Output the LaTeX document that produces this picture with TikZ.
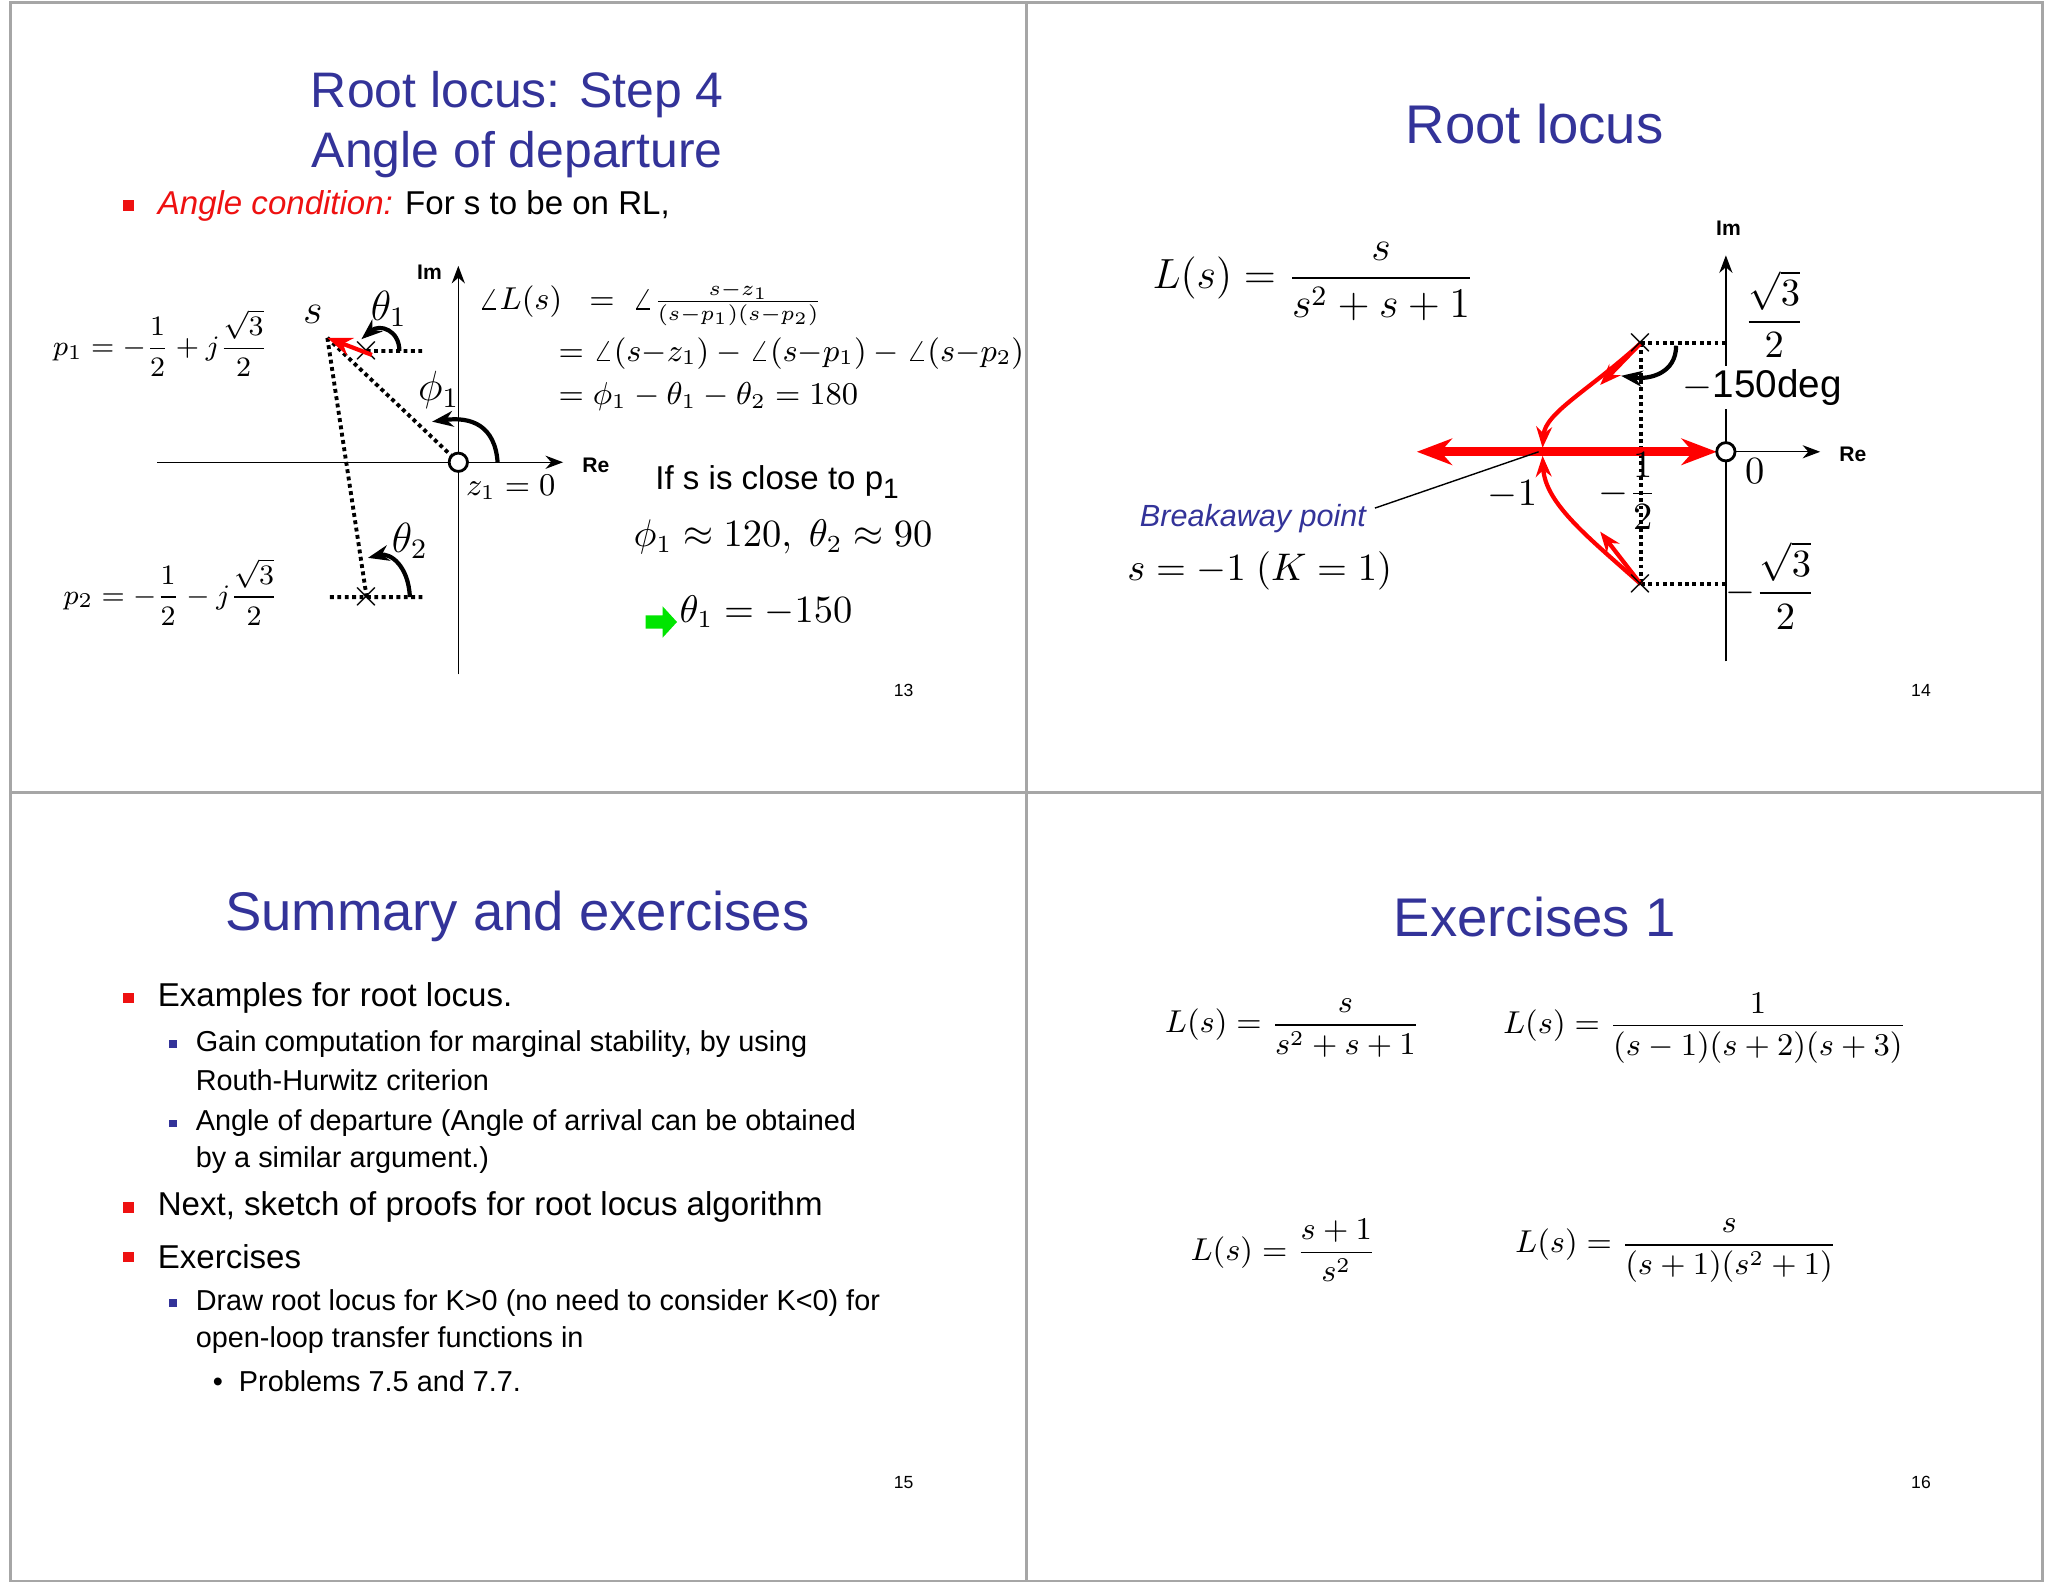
\documentclass[tikz,border=0pt]{standalone}
\usepackage{amsmath}
\usepackage{fontspec}
\setmainfont{Liberation Sans}
\usetikzlibrary{arrows.meta}
\definecolor{ttl}{HTML}{333399}
\definecolor{bred}{HTML}{EE1111}
\tikzset{
 ttlf/.style={text=ttl,font=\fontsize{15.5}{17}\selectfont},
 body/.style={anchor=west,font=\fontsize{9.4}{11}\selectfont,inner sep=0},
 sub/.style={anchor=west,font=\fontsize{8.2}{10}\selectfont,inner sep=0},
 pg/.style={font=\fontsize{5}{6}\selectfont},
 dot/.style={densely dotted,line width=1.1pt},
 rl/.style={red,line width=1.2pt},
 mth/.style={font=\fontsize{9}{11}\selectfont},
}
\newcommand{\rbul}[1]{\fill[bred] (94,#1-4) rectangle (102,#1+4);}
\newcommand{\bbul}[1]{\fill[ttl] (129,#1-3) rectangle (135,#1+3);}
\begin{document}
\begin{tikzpicture}[x=0.013095cm,y=-0.013095cm]
\useasboundingbox (0,0) rectangle (1564,1208);
\fill[white] (0,0) rectangle (1564,1208);
\draw[gray!70,line width=0.8pt] (8,2) rectangle (1560,1208);
\draw[gray!70,line width=0.8pt] (784,2) -- (784,1208) (8,605) -- (1560,605);
% ---------- slide 13
\node[ttlf,font=\fontsize{14.2}{16}\selectfont] (t13a) at (395,72) {Root locus: Step 4};
\node[ttlf,font=\fontsize{14.2}{16}\selectfont] (t13b) at (395,118) {Angle of departure};
\rbul{157}
\node[body] (b13) at (120,157) {\textcolor{bred}{\itshape Angle condition:} For s to be on RL,};
\coordinate (z) at (350,353);
\coordinate (p1) at (280,268);
\coordinate (p2) at (280,456);
\coordinate (s) at (250,258);
\draw[-{Stealth[length=5pt]}] (120,353) -- (430,353);
\draw[-{Stealth[length=5pt]}] (350,515) -- (350,203);
\node[font=\bfseries\fontsize{6}{7}\selectfont] (im13) at (328,208) {Im};
\node[font=\bfseries\fontsize{6}{7}\selectfont] (re13) at (455,355) {Re};
\draw[dot] (s) -- (z) (s) -- (p2) (p1) -- (323,268) (252,456) -- (323,456);
\draw[fill=white,thick] (z) circle (7);
\node[font=\fontsize{11}{12}\selectfont] at (p1) {$\times$};
\node[font=\fontsize{11}{12}\selectfont] at (p2) {$\times$};
\draw[rl,-{Stealth[length=7pt]}] (284,271) -- (s);
\draw[line width=1.2pt,-{Stealth[length=6pt]}] (305,268) .. controls (305,252) and (290,247) .. (276,259);
\draw[line width=1.2pt,-{Stealth[length=6pt]}] (380,353) .. controls (378,325) and (360,318) .. (330,322);
\draw[line width=1.2pt,-{Stealth[length=6pt]}] (313,456) .. controls (312,432) and (298,422) .. (281,426);
\node[mth,anchor=east,font=\fontsize{8.5}{10}\selectfont] (p1l) at (214,262) {$p_1=-\dfrac12+j\dfrac{\sqrt3}{2}$};
\node[mth,anchor=east,font=\fontsize{8.5}{10}\selectfont] (p2l) at (222,452) {$p_2=-\dfrac12-j\dfrac{\sqrt3}{2}$};
\node[font=\fontsize{12}{13}\selectfont] (sl) at (239,240) {$s$};
\node[font=\fontsize{12}{13}\selectfont] (th1) at (297,236) {$\theta_1$};
\node[font=\fontsize{12}{13}\selectfont] (ph1) at (335,298) {$\phi_1$};
\node[font=\fontsize{12}{13}\selectfont] (th2) at (313,413) {$\theta_2$};
\node[mth] (z1) at (390,372) {$z_1=0$};
\node[mth,anchor=west,inner sep=0] (e1) at (365,232) {$\angle L(s)\;\;=\;\angle\frac{s-z_1}{(s-p_1)(s-p_2)}$};
\node[mth,anchor=west,inner sep=0] (e2) at (426,270) {$=\angle(s{-}z_1)-\angle(s{-}p_1)-\angle(s{-}p_2)$};
\node[mth,anchor=west,inner sep=0] (e3) at (426,303) {$=\phi_1-\theta_1-\theta_2=180$};
\node[body] (close) at (500,368) {If s is close to p\textsubscript{\footnotesize 1}};
\node[font=\fontsize{10.5}{12}\selectfont] (ap) at (598,410) {$\phi_1\approx120,\ \theta_2\approx90$};
\fill[green!90!black] (493,470) -- (506,470) -- (506,463) -- (517,475) -- (506,487) -- (506,480) -- (493,480) -- cycle;
\node[font=\fontsize{10.5}{12}\selectfont] (res) at (585,467) {$\theta_1=-150$};
\node[pg] (n13) at (690,527) {13};
% ---------- slide 14
\node[ttlf] (t14) at (1172,95) {Root locus};
\node[font=\fontsize{11.5}{13}\selectfont] (L14) at (1003,215) {$L(s)=\dfrac{s}{s^2+s+1}$};
\coordinate (z0) at (1318,345);
\coordinate (q1) at (1253,262);
\coordinate (q2) at (1253,446);
\coordinate (bk) at (1175,345);
\draw[-{Stealth[length=5pt]}] (1100,345) -- (1390,345);
\draw[-{Stealth[length=5pt]}] (1318,505) -- (1318,195);
\node[font=\bfseries\fontsize{6}{7}\selectfont] (im14) at (1320,174) {Im};
\node[font=\bfseries\fontsize{6}{7}\selectfont] (re14) at (1415,347) {Re};
\draw[dot] (q1) -- (1318,262) (q2) -- (1318,446) (q1) -- (q2);
\draw[red,line width=2.5pt,-{Stealth[length=10pt]}] (1200,345) -- (1082,345);
\draw[red,line width=2.5pt,-{Stealth[length=10pt]}] (1200,345) -- (1311,345);
\draw[rl,-{Stealth[length=6pt]}] (q1) .. controls (1215,297) and (1180,315) .. (1178,342);
\draw[rl,-{Stealth[length=6pt]}] (q2) .. controls (1215,412) and (1180,385) .. (1178,348);
\draw[rl,-{Stealth[length=6pt]}] (q1) -- (1222,294);
\draw[rl,-{Stealth[length=6pt]}] (q2) -- (1222,406);
\draw[fill=white,thick] (z0) circle (7);
\node[font=\fontsize{11}{12}\selectfont] at (q1) {$\times$};
\node[font=\fontsize{11}{12}\selectfont] at (q2) {$\times$};
\draw[line width=1.2pt,-{Stealth[length=6pt]}] (1280,264) .. controls (1280,285) and (1260,290) .. (1238,287);
\node[font=\fontsize{11}{12}\selectfont] (sq) at (1355,240) {$\dfrac{\sqrt3}{2}$};
\node[font=\fontsize{11}{12}\selectfont,anchor=west,inner sep=1pt,fill=white] (deg) at (1282,296) {$-$150deg};
\node[font=\fontsize{11}{12}\selectfont] (zl) at (1340,360) {$0$};
\node[font=\fontsize{11}{12}\selectfont] (m1) at (1155,378) {$-1$};
\node[font=\fontsize{11}{12}\selectfont] (mh) at (1243,375) {$-\dfrac12$};
\node[font=\fontsize{11}{12}\selectfont] (msq) at (1352,447) {$-\dfrac{\sqrt3}{2}$};
\node[body,text=ttl,font=\itshape\fontsize{8.7}{11}\selectfont] (bkl) at (870,396) {Breakaway point};
\draw (1050,388) -- (bk);
\node[font=\fontsize{10.5}{12}\selectfont] (kl) at (962,436) {$s=-1\ (K=1)$};
\node[pg] (n14) at (1467,527) {14};
% ---------- slide 15
\node[ttlf] (t15) at (395,700) {Summary and exercises};
\rbul{762} \node[body] (a1) at (120,762) {Examples for root locus.};
\bbul{797} \node[sub] (a2) at (149,797) {Gain computation for marginal stability, by using};
\node[sub] (a3) at (149,825) {Routh-Hurwitz criterion};
\bbul{858} \node[sub] (a4) at (149,858) {Angle of departure (Angle of arrival can be obtained};
\node[sub] (a5) at (149,886) {by a similar argument.)};
\rbul{922} \node[body] (a6) at (120,922) {Next, sketch of proofs for root locus algorithm};
\rbul{960} \node[body] (a7) at (120,960) {Exercises};
\bbul{995} \node[sub] (a8) at (149,995) {Draw root locus for K>0 (no need to consider K<0) for};
\node[sub] (a9) at (149,1023) {open-loop transfer functions in};
\node[sub] (a10) at (162,1055) {•\ \ Problems 7.5 and 7.7.};
\node[pg] (n15) at (690,1132) {15};
% ---------- slide 16
\node[ttlf] (t16) at (1172,700) {Exercises 1};
\node[font=\fontsize{9}{11}\selectfont] (f1) at (987,785) {$L(s)=\dfrac{s}{s^2+s+1}$};
\node[font=\fontsize{9}{11}\selectfont] (f2) at (1302,785) {$L(s)=\dfrac{1}{(s-1)(s+2)(s+3)}$};
\node[font=\fontsize{9}{11}\selectfont] (f3) at (980,955) {$L(s)=\dfrac{s+1}{s^2}$};
\node[font=\fontsize{9}{11}\selectfont] (f4) at (1280,955) {$L(s)=\dfrac{s}{(s+1)(s^2+1)}$};
\node[pg] (n16) at (1467,1132) {16};
\end{tikzpicture}
\end{document}
